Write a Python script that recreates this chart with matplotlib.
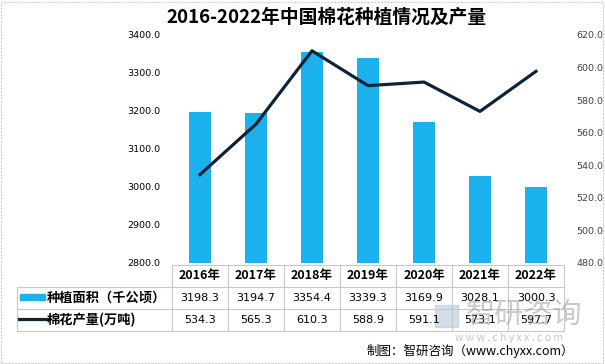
import matplotlib.pyplot as plt
from matplotlib.patches import Rectangle
from matplotlib.lines import Line2D

plt.rcParams['font.family'] = ['Noto Sans CJK SC', 'DejaVu Sans']

years = ['2016年', '2017年', '2018年', '2019年', '2020年', '2021年', '2022年']
area = [3198.3, 3194.7, 3354.4, 3339.3, 3169.9, 3028.1, 3000.3]
output = [534.3, 565.3, 610.3, 588.9, 591.1, 573.1, 597.7]
row_labels = ['种植面积（千公顷）', '棉花产量(万吨)']

bar_color = '#1BB1EC'
line_color = '#0E2338'
grid_color = '#C8C8C8'

W, H = 605, 364
fig = plt.figure(figsize=(W / 100, H / 100), dpi=100)

# plot area in pixels: x 172..564, y 35..263
ax = fig.add_axes([172 / W, 1 - 263 / H, (564 - 172) / W, (263 - 35) / H])
x = list(range(len(years)))
ax.bar(x, area, width=0.41, color=bar_color, zorder=2)
ax.set_xlim(-0.5, len(years) - 0.5)
ax.set_ylim(2800, 3400)
ax.set_yticks([2800 + 100 * i for i in range(7)])
ax.set_yticklabels(['%.1f' % v for v in ax.get_yticks()], fontsize=6.8,
                   family=['DejaVu Sans'])
ax.tick_params(axis='y', length=0, pad=8.5)
ax.set_xticks([])
for s in ax.spines.values():
    s.set_visible(False)

ax2 = ax.twinx()
ax2.plot(x, output, color=line_color, lw=2.3, zorder=3)
ax2.set_ylim(480, 620)
ax2.set_yticks([480 + 20 * i for i in range(8)])
ax2.set_yticklabels(['%.1f' % v for v in ax2.get_yticks()], fontsize=6.8,
                    family=['DejaVu Sans'], color='#404040')
ax2.tick_params(axis='y', length=0, pad=9)
for s in ax2.spines.values():
    s.set_visible(False)

# data table under the axis
def px(xp, yp):
    return xp / W, 1 - yp / H

col_edges = [172 + 56 * i for i in range(len(years) + 1)]
row_edges = [265, 287, 309, 331]
tbl_left = 17

def hline(x0, x1, y):
    a, b = px(x0, y)
    c, _ = px(x1, y)
    fig.add_artist(Line2D([a, c], [b, b], color=grid_color, lw=0.8))

def vline(xp, y0, y1):
    a, b = px(xp, y0)
    _, d = px(xp, y1)
    fig.add_artist(Line2D([a, a], [b, d], color=grid_color, lw=0.8))

hline(col_edges[0], col_edges[-1], row_edges[0])
for y in row_edges[1:]:
    hline(tbl_left, col_edges[-1], y)
for xe in col_edges:
    vline(xe, row_edges[0], row_edges[-1])
vline(tbl_left, row_edges[1], row_edges[-1])

for i, yr in enumerate(years):
    cx = (col_edges[i] + col_edges[i + 1]) / 2
    fig.text(*px(cx, (row_edges[0] + row_edges[1]) / 2), yr, ha='center',
             va='center', fontsize=9, fontweight='bold')
    fig.text(*px(cx, (row_edges[1] + row_edges[2]) / 2), '%.1f' % area[i],
             ha='center', va='center', fontsize=8, family=['DejaVu Sans'])
    fig.text(*px(cx, (row_edges[2] + row_edges[3]) / 2), '%.1f' % output[i],
             ha='center', va='center', fontsize=8, family=['DejaVu Sans'])

# legend keys in the header column
yc1 = (row_edges[1] + row_edges[2]) / 2
yc2 = (row_edges[2] + row_edges[3]) / 2
a, b = px(20, 300)
fig.add_artist(Rectangle((a, b), 25 / W, 6 / H, color=bar_color))
a, b = px(19, 319)
fig.add_artist(Line2D([a, a + 28 / W], [b, b], color=line_color, lw=2.3))
fig.text(*px(47, yc1), row_labels[0], ha='left', va='center', fontsize=9.5,
         fontweight='bold')
fig.text(*px(47, yc2), row_labels[1], ha='left', va='center', fontsize=9.5,
         fontweight='bold')

# title
fig.text(*px(326, 17), '2016-2022年中国棉花种植情况及产量', ha='center',
         va='center', fontsize=13.5, fontweight='bold')

# watermark
fig.text(*px(524, 315), '智研咨询', ha='center', va='center', fontsize=21,
         color='#8A8A8A', alpha=0.45)
fig.text(*px(509, 338), 'w w w . c h y x x . c o m', ha='center',
         va='center', fontsize=7.5, color='#A0A0A0', alpha=0.6)
a, b = px(435, 327)
fig.add_artist(Rectangle((a, b), 23 / W, 22 / H, color='#AFC4DA', alpha=0.55))

# source
fig.text(*px(574, 351), '制图：智研咨询（www.chyxx.com）', ha='right',
         va='center', fontsize=9)

# outer border
fig.add_artist(Rectangle((1 / W, 1 / H), (W - 3) / W, (H - 3) / H,
                         fill=False, ec='#D0D0D0', lw=0.8, ls=(0, (2, 1))))

fig.savefig('out.png', dpi=100)
